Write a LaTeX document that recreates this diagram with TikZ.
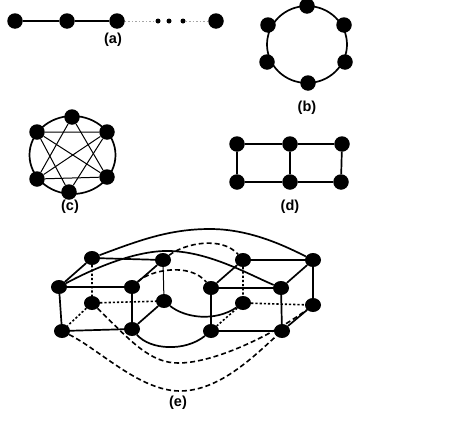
\documentclass[tikz,border=0pt]{standalone}
\usepackage{fontspec}
\setmainfont{Liberation Sans}
\usetikzlibrary{shapes.geometric}
\begin{document}
\begin{tikzpicture}[x=1pt,y=-1pt,
 vtx/.style={circle,fill=black,inner sep=0pt,minimum size=15.5pt},
 evtx/.style={ellipse,fill=black,inner sep=0pt,minimum width=16pt,minimum height=14pt},
 smalldot/.style={circle,fill=black,inner sep=0pt,minimum size=5pt},
 edge/.style={line width=1.7pt},
 thinedge/.style={line width=1pt},
 greydot/.style={line width=0.7pt,gray!70,dash pattern=on 1.5pt off 2pt},
 dotedge/.style={line width=1.6pt,dash pattern=on 2.2pt off 2pt},
 dashedge/.style={line width=1.6pt,dash pattern=on 5pt off 3pt},
 lbl/.style={font=\bfseries\fontsize{14.5}{16}\selectfont}]
\useasboundingbox (0,0) rectangle (474,442);

% ---------- (a)
\node[vtx] (a1) at (15,21) {};
\node[vtx] (a2) at (67,21) {};
\node[vtx] (a3) at (117,21) {};
\node[vtx] (a4) at (216,21) {};
\node[smalldot] (a5) at (158,21) {};
\node[smalldot] (a6) at (169,21) {};
\node[smalldot] (a7) at (183,21) {};
\draw[edge] (a1) -- (a2) -- (a3);
\draw[greydot] (a3) -- (a5);
\draw[greydot] (a7) -- (a4);
\node[lbl] (la) at (113,40) {(a)};

% ---------- (b)
\draw[edge] (307,44.5) ellipse [x radius=40, y radius=38.5];
\node[vtx] (b1) at (307,6) {};
\node[vtx] (b2) at (344,25) {};
\node[vtx] (b3) at (345,62) {};
\node[vtx] (b4) at (308,83) {};
\node[vtx] (b5) at (267,62) {};
\node[vtx] (b6) at (268,25) {};
\node[lbl] (lb) at (307,108) {(b)};

% ---------- (c)
\draw[edge] (72.5,155) ellipse [x radius=43, y radius=39];
\node[vtx] (c1) at (72,117) {};
\node[vtx] (c2) at (107,132) {};
\node[vtx] (c3) at (107,177) {};
\node[vtx] (c4) at (69,192) {};
\node[vtx] (c5) at (37,179) {};
\node[vtx] (c6) at (37,132) {};
\draw[thinedge] (c1) -- (c5) -- (c3) -- (c1);
\draw[thinedge] (c4) -- (c6) -- (c2) -- (c4);
\draw[thinedge] (c6) -- (c3);
\draw[thinedge] (c2) -- (c5);
\node[lbl] (lc) at (70,207) {(c)};

% ---------- (d)
\node[vtx] (d1) at (237,144) {};
\node[vtx] (d2) at (290,144) {};
\node[vtx] (d3) at (342,144) {};
\node[vtx] (d4) at (237,182) {};
\node[vtx] (d5) at (290,182) {};
\node[vtx] (d6) at (341,182) {};
\draw[edge] (d1) -- (d2) -- (d3) -- (d6) -- (d5) -- (d4) -- (d1);
\draw[edge] (d2) -- (d5);
\node[lbl] (ld) at (290,207) {(d)};

% ---------- (e) left cube
\node[evtx] (p1) at (92,258) {};   % back top left
\node[evtx] (p2) at (163,260) {};  % back top right
\node[evtx] (p3) at (59,287) {};   % front top left
\node[evtx] (p4) at (132,287) {};  % front top right
\node[evtx] (p5) at (92,303) {};   % back bottom left
\node[evtx] (p6) at (164,301) {};  % back bottom right
\node[evtx] (p7) at (62,331) {};   % front bottom left
\node[evtx] (p8) at (132,329) {};  % front bottom right
% right cube
\node[evtx] (q1) at (243,260) {};
\node[evtx] (q2) at (313,260) {};
\node[evtx] (q3) at (211,288) {};
\node[evtx] (q4) at (281,288) {};
\node[evtx] (q5) at (243,303) {};
\node[evtx] (q6) at (313,305) {};
\node[evtx] (q7) at (211,331) {};
\node[evtx] (q8) at (282,331) {};

\draw[edge] (p3) -- (p4) -- (p8) -- (p7) -- (p3);
\draw[edge] (p1) -- (p2) -- (p4);
\draw[edge] (p1) -- (p3);
\draw[thinedge] (p2) -- (p6);
\draw[edge] (p6) -- (p8);
\draw[dotedge] (p1) -- (p5) -- (p6);
\draw[dotedge] (p5) -- (p7);

\draw[edge] (q3) -- (q4) -- (q8) -- (q7) -- (q3);
\draw[edge] (q1) -- (q2) -- (q4);
\draw[edge] (q1) -- (q3);
\draw[edge] (q2) -- (q6);
\draw[edge] (q6) -- (q8);
\draw[dotedge] (q1) -- (q5) -- (q6);
\draw[dotedge] (q5) -- (q7);

% connecting curves
\draw[edge] (p1) .. controls (140,240) and (170,229) .. (210,229)
                 .. controls (250,229) and (285,246) .. (q2);
\draw[edge] (p3) .. controls (100,265) and (140,250) .. (170,251)
                 .. controls (210,252) and (250,275) .. (q4);
\draw[dashedge] (p2) .. controls (185,243) and (222,236) .. (q1);
\draw[dashedge] (p4) .. controls (150,270) and (190,262) .. (q3);
\draw[edge] (p6) .. controls (185,318) and (215,322) .. (q5);
\draw[edge] (p8) .. controls (150,350) and (185,352) .. (q7);
\draw[dashedge] (p5) .. controls (130,340) and (150,364) .. (180,363)
                     .. controls (220,362) and (280,330) .. (q6);
\draw[dashedge] (p7) .. controls (100,350) and (140,391) .. (180,391)
                     .. controls (220,391) and (255,355) .. (q8);
\node[lbl] (le) at (178,403) {(e)};
\end{tikzpicture}
\end{document}
